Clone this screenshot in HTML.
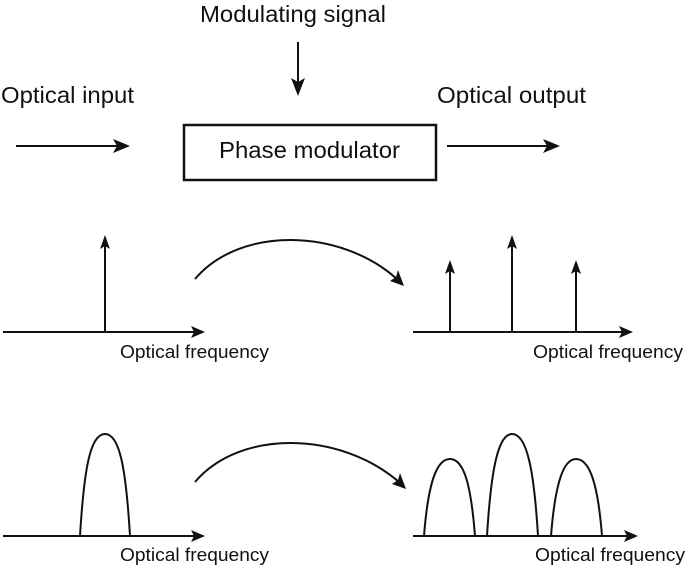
<!DOCTYPE html>
<html><head><meta charset="utf-8"><style>html,body{margin:0;padding:0;background:#fff}svg{display:block}</style></head>
<body>
<svg width="685" height="568" viewBox="0 0 685 568" xmlns="http://www.w3.org/2000/svg" font-family="'Liberation Sans', sans-serif" fill="#111">
<g stroke="#111" stroke-width="2" fill="none">
<line x1="298" y1="42" x2="298" y2="84"/>
<line x1="16" y1="146" x2="118" y2="146"/>
<line x1="447" y1="146" x2="548" y2="146"/>
<rect x="184" y="125" width="252" height="55" stroke-width="2.5"/>
<!-- middle -->
<line x1="3" y1="332" x2="194" y2="332"/>
<line x1="105" y1="332" x2="105" y2="246"/>
<line x1="413" y1="332" x2="622" y2="332"/>
<line x1="450" y1="332" x2="450" y2="271"/>
<line x1="512" y1="332" x2="512" y2="246"/>
<line x1="576" y1="332" x2="576" y2="271"/>
<path d="M195,279 C240,226 340,228 397,279"/>
<!-- bottom -->
<line x1="3" y1="536" x2="194" y2="536"/>
<path d="M80,536 C84,470 90,434 105,434 C120,434 126,470 130,536"/>
<line x1="413" y1="536" x2="627" y2="536"/>
<path d="M424,536 C428,485 436,459 450,459 C464,459 471,485 475,536"/>
<path d="M487,536 C491,470 498,434 512,434 C527,434 534,470 538,536"/>
<path d="M551,536 C555,485 563,459 576,459 C590,459 598,485 602,536"/>
<path d="M195,482 C240,429 340,431 399,482"/>
</g>
<g stroke="none" fill="#111">
<!-- top arrowheads -->
<polygon points="298,96 291,78 298,82 305,78"/>
<polygon points="130,146 113,139 117,146 113,153"/>
<polygon points="560,146 543,139 547,146 543,153"/>
<!-- axes heads -->
<polygon points="205,332 191,326 194,332 191,338"/>
<polygon points="633,332 619,326 622,332 619,338"/>
<polygon points="205,536 191,530 194,536 191,542"/>
<polygon points="638,536 624,530 627,536 624,542"/>
<!-- spikes -->
<polygon points="105,235 100,249 105,246 110,249"/>
<polygon points="450,260 445,274 450,271 455,274"/>
<polygon points="512,235 507,249 512,246 517,249"/>
<polygon points="576,260 571,274 576,271 581,274"/>
<!-- arc heads -->
<polygon points="404,286 390,281 396,277 398,270"/>
<polygon points="406,489 392,484 398,480 400,473"/>
<text x="200" y="22" font-size="23" textLength="186" lengthAdjust="spacingAndGlyphs">Modulating signal</text>
<text x="1" y="103" font-size="23" textLength="133" lengthAdjust="spacingAndGlyphs">Optical input</text>
<text x="437" y="103" font-size="23" textLength="149" lengthAdjust="spacingAndGlyphs">Optical output</text>
<text x="219" y="158" font-size="23" textLength="181" lengthAdjust="spacingAndGlyphs">Phase modulator</text>
<text x="120" y="358" font-size="18" textLength="149" lengthAdjust="spacingAndGlyphs">Optical frequency</text>
<text x="533" y="358" font-size="18" textLength="150" lengthAdjust="spacingAndGlyphs">Optical frequency</text>
<text x="120" y="561" font-size="18" textLength="149" lengthAdjust="spacingAndGlyphs">Optical frequency</text>
<text x="535" y="561" font-size="18" textLength="150" lengthAdjust="spacingAndGlyphs">Optical frequency</text>
</g>
</svg>
</body></html>
